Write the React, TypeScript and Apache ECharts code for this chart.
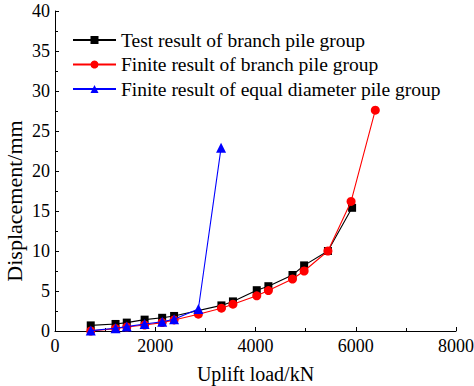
import React, { useEffect, useRef } from "react";
import * as echarts from "echarts";

const seriesNames = [
  "Test result of branch pile group",
  "Finite result of branch pile group",
  "Finite result of equal diameter pile group",
];

const testData: [number, number][] = [
  [713, 0.7], [1208, 0.88], [1432, 1.05], [1788, 1.42], [2138, 1.65], [2376, 1.88],
  [3320, 3.2], [3550, 3.7], [4025, 5.1], [4257, 5.6], [4738, 7.0], [4970, 8.2],
  [5445, 10.0], [5927, 15.4],
];

const finiteBranch: [number, number][] = [
  [713, 0.0], [1208, 0.3], [1432, 0.5], [1788, 0.75], [2138, 1.05], [2376, 1.38],
  [2860, 2.1], [3320, 2.85], [3550, 3.35], [4025, 4.4], [4257, 5.05], [4738, 6.5],
  [4970, 7.5], [5445, 10.0], [5907, 16.2], [6390, 27.6],
];

const finiteEqual: [number, number][] = [
  [713, 0.05], [1208, 0.35], [1432, 0.55], [1788, 0.88], [2138, 1.15], [2376, 1.46],
  [2860, 2.75], [3313, 22.9],
];

const colors = ["#000000", "#ff0000", "#0000ff"];
const symbols = ["rect", "circle", "triangle"];
const symbolSizes = [8, 9, 10];

export default function App() {
  const ref = useRef<HTMLDivElement>(null);
  useEffect(() => {
    if (!ref.current) return;
    const chart = echarts.init(ref.current, undefined, { renderer: "svg" });
    const font = "Liberation Serif";
    const datasets = [testData, finiteBranch, finiteEqual];
    chart.setOption({
      animation: false,
      backgroundColor: "#ffffff",
      textStyle: { fontFamily: font, color: "#000" },
      grid: { left: 55, right: 18, top: 11, bottom: 55, containLabel: false, outerBoundsMode: "none" },
      legend: {
        orient: "vertical",
        left: 67,
        top: 25,
        itemWidth: 43,
        itemHeight: 10,
        itemGap: 4.5,
        data: seriesNames,
        textStyle: { fontFamily: font, fontSize: 19.5, color: "#000", lineHeight: 20 },
      },
      graphic: [
        {
          type: "text",
          x: 14,
          y: 201,
          rotation: Math.PI / 2,
          style: {
            text: "Displacement/mm",
            font: `22px "${font}"`,
            fill: "#000",
            align: "center",
            verticalAlign: "middle",
          },
        },
      ],
      xAxis: {
        type: "value",
        min: 0,
        max: 8000,
        interval: 2000,
        name: "Uplift load/kN",
        nameLocation: "middle",
        nameGap: 33,
        nameTextStyle: { fontFamily: font, fontSize: 20, color: "#000" },
        axisLine: { lineStyle: { color: "#000", width: 1 } },
        axisTick: { inside: true, length: 4, lineStyle: { color: "#000" } },
        minorTick: { show: true, splitNumber: 2, length: 3, lineStyle: { color: "#000" } },
        splitLine: { show: false },
        axisLabel: {
          fontFamily: font,
          fontSize: 18,
          color: "#000",
          margin: 6,
          formatter: (v: number) => String(v),
        },
      },
      yAxis: {
        type: "value",
        min: 0,
        max: 40,
        interval: 5,
        axisLine: { show: true, lineStyle: { color: "#000", width: 1 } },
        axisTick: { show: true, inside: true, length: 4, lineStyle: { color: "#000" } },
        minorTick: { show: true, splitNumber: 2, length: 3, lineStyle: { color: "#000" } },
        splitLine: { show: false },
        axisLabel: { fontFamily: font, fontSize: 18, color: "#000", margin: 5 },
      },
      series: seriesNames.map((name, i) => ({
        name,
        type: "line",
        data: datasets[i],
        symbol: symbols[i],
        symbolSize: symbolSizes[i],
        itemStyle: { color: colors[i] },
        lineStyle: { color: colors[i], width: 1.1 },
        z: 2 + i,
      })),
    });
    return () => chart.dispose();
  }, []);
  return <div ref={ref} style={{ width: 474, height: 386, position: "absolute", left: 0, top: 0 }} />;
}
